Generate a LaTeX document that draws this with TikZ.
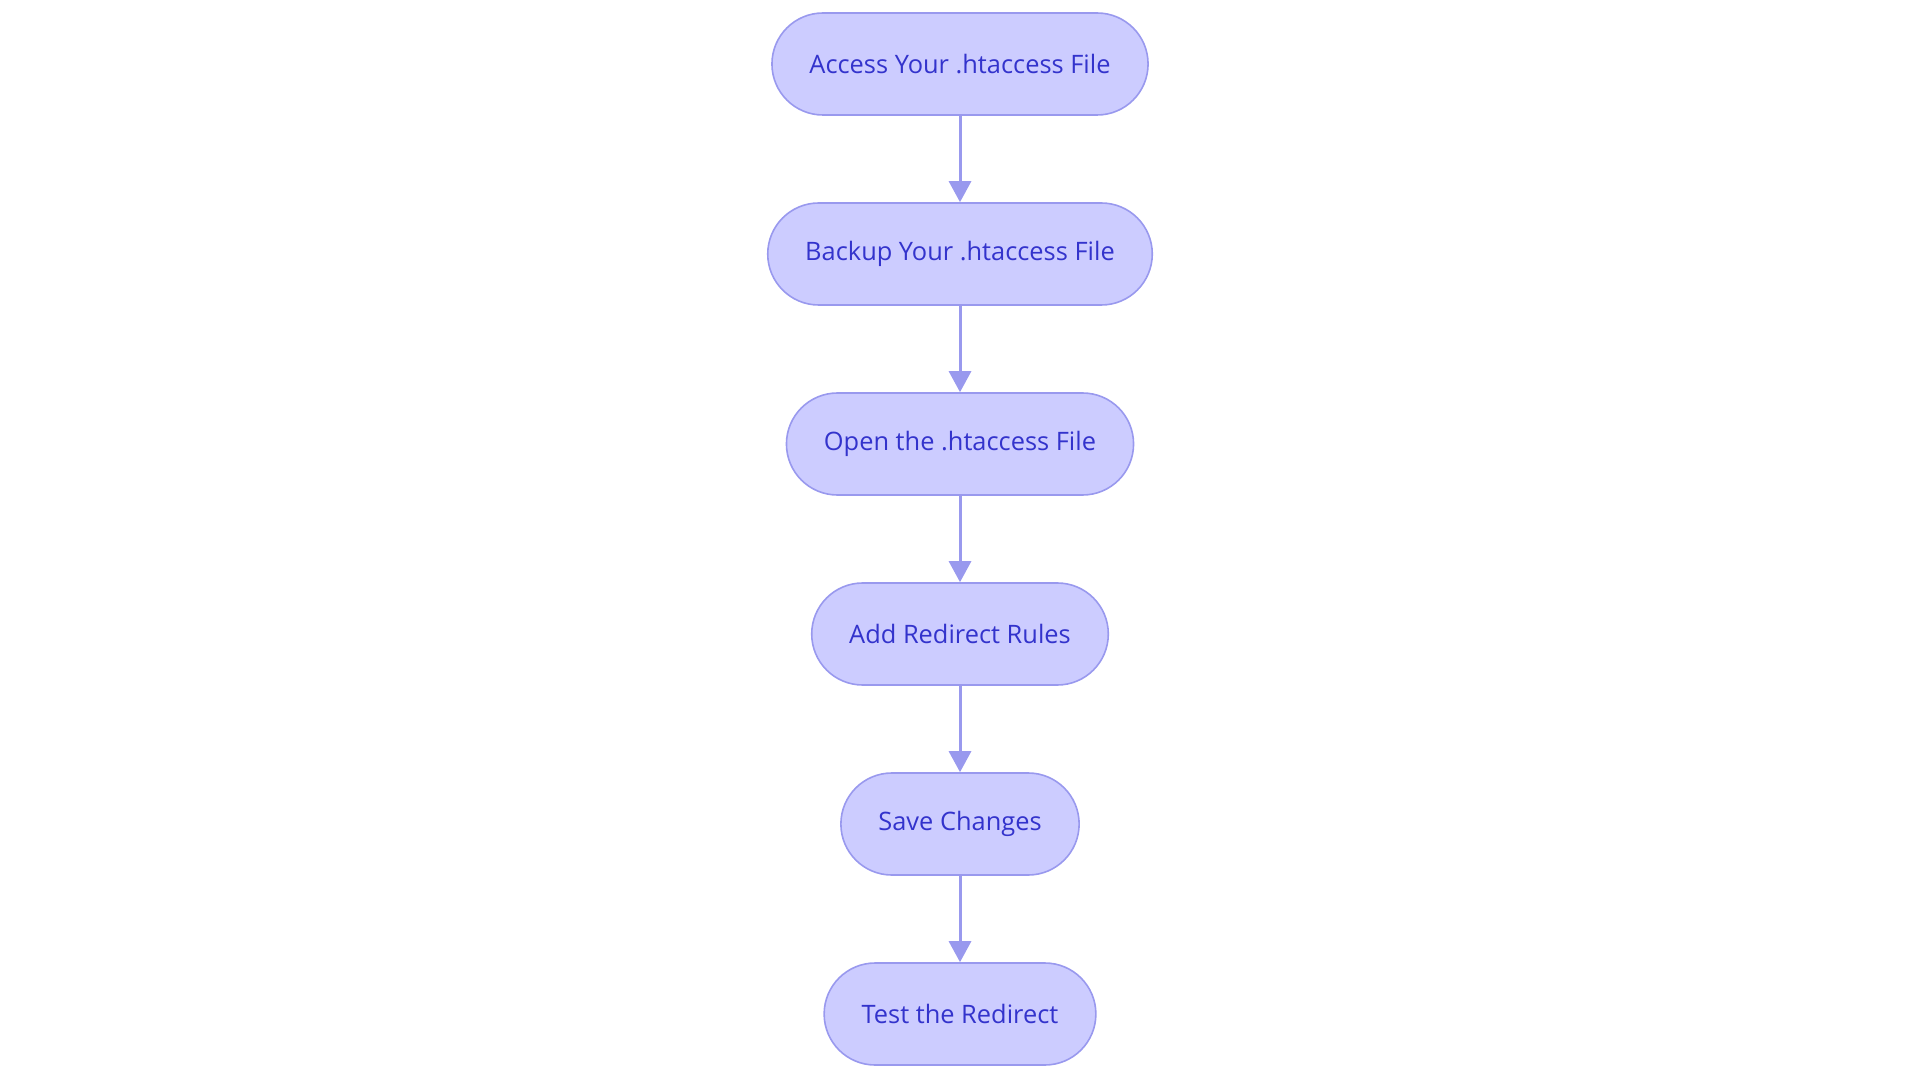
\documentclass[tikz,border=0pt]{standalone}
\usepackage{fontspec}
\setmainfont{Open Sans}
\usepackage{tikz}
\usetikzlibrary{arrows.meta}
\definecolor{stepfill}{RGB}{204,204,255}
\definecolor{stepline}{RGB}{153,153,238}
\definecolor{steptext}{RGB}{51,51,204}

\begin{document}
\begin{tikzpicture}[
		stepbox/.style={rectangle,rounded corners=25.5pt,fill=stepfill,draw=stepline,line width=0.8pt,
			text=steptext,font=\fontsize{12.7pt}{14pt}\selectfont,minimum height=51pt,inner xsep=18.75pt},
		flow/.style={draw=stepline,line width=1.5pt,-{Triangle[length=10.5pt,width=11pt]}}]
			\useasboundingbox (0,0) rectangle (960pt,541.5pt);
			\foreach \txt [count=\i] in {Access Your .htaccess File,Backup Your .htaccess File,Open the .htaccess File,Add Redirect Rules,Save Changes,Test the Redirect} {
				\node[stepbox] (S\i) at (480pt,{509.5pt-(\i-1)*95pt}) {\txt};
			}
			\draw[flow] (S1) -- (S2);
			\draw[flow] (S2) -- (S3);
			\draw[flow] (S3) -- (S4);
			\draw[flow] (S4) -- (S5);
			\draw[flow] (S5) -- (S6);
		\end{tikzpicture}
\end{document}
